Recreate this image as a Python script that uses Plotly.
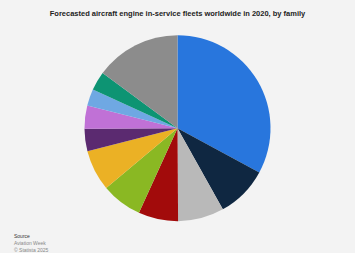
import plotly.graph_objects as go

families = ["CFM56", "V2500", "CF34", "PW100", "LEAP", "PW1000G", "Trent 700",
            "GE90", "CF6", "Trent XWB", "Others"]
shares = [32.9, 9.0, 8.0, 6.9, 7.1, 7.1, 3.9, 4.0, 2.9, 3.3, 14.9]
colors = ["#2876dd", "#0f2741", "#b9b9b9", "#a20b0b", "#8ab823", "#ebb125",
          "#5b2a70", "#c071d6", "#6fa8e3", "#0d9473", "#8c8c8c"]

fig = go.Figure(go.Pie(
    labels=families, values=shares, sort=False, direction="clockwise",
    rotation=0, marker=dict(colors=colors, line=dict(width=0)),
    textinfo="none", hoverinfo="label+percent",
    domain=dict(x=[0.238, 0.762], y=[0.125, 0.862]),
))

fig.update_layout(
    width=355, height=253, showlegend=False,
    paper_bgcolor="#f3f3f3", plot_bgcolor="#f3f3f3",
    margin=dict(l=0, r=0, t=0, b=0),
    title=dict(text="<b>Forecasted aircraft engine in-service fleets worldwide in 2020, by family</b>",
               x=0.5, xanchor="center", y=0.948, yanchor="middle",
               font=dict(family="Arial, Liberation Sans, sans-serif", size=7.5, color="#222222")),
    annotations=[
        dict(text="Source", x=12/355, y=1-236/253, xref="paper", yref="paper",
             xanchor="left", yanchor="middle", showarrow=False,
             font=dict(family="Arial, Liberation Sans, sans-serif", size=5, color="#333333")),
        dict(text="Aviation Week", x=12/355, y=1-243/253, xref="paper", yref="paper",
             xanchor="left", yanchor="middle", showarrow=False,
             font=dict(family="Arial, Liberation Sans, sans-serif", size=5, color="#888888")),
        dict(text="© Statista 2025", x=12/355, y=1-249.5/253, xref="paper", yref="paper",
             xanchor="left", yanchor="middle", showarrow=False,
             font=dict(family="Arial, Liberation Sans, sans-serif", size=5, color="#888888")),
    ],
)

fig.write_html("out.html")
